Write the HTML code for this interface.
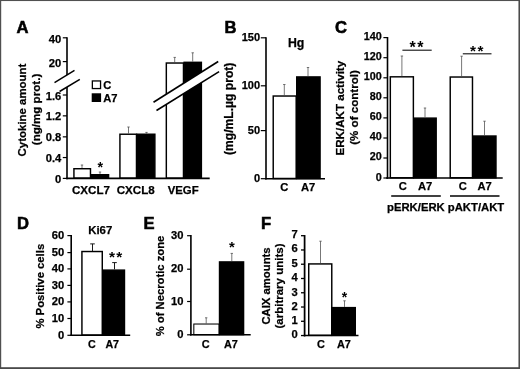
<!DOCTYPE html>
<html><head><meta charset="utf-8"><title>Figure</title>
<style>
html,body{margin:0;padding:0;background:#fff;}
body{width:520px;height:369px;overflow:hidden;position:relative;}
svg{position:absolute;left:0;top:0;display:block;}
svg text{font-family:"Liberation Sans",Arial,Helvetica,sans-serif;font-weight:bold;fill:#000;stroke:#000;stroke-width:0.25px;}
svg text.ast{stroke:none;}
svg text.pl{stroke-width:0.55px;}
</style></head><body>
<svg width="520" height="369" viewBox="0 0 520 369">
<rect x="0" y="0" width="520" height="369" fill="#fff"/>
<text x="16.5" y="32.8" font-size="16.6" text-anchor="start" class="pl">A</text>
<rect x="73.925" y="168.725" width="16.55" height="9.450000000000006" fill="#fff" stroke="#000" stroke-width="1.45"/>
<rect x="90.925" y="174.725" width="17.649999999999995" height="3.4500000000000055" fill="#000" stroke="#000" stroke-width="1.45"/>
<line x1="82" y1="165" x2="82" y2="168" stroke="#4a4a4a" stroke-width="0.75" />
<line x1="80.8" y1="165" x2="83.2" y2="165" stroke="#4a4a4a" stroke-width="0.75" />
<line x1="100" y1="172" x2="100" y2="174" stroke="#4a4a4a" stroke-width="0.75" />
<line x1="98.8" y1="172" x2="101.2" y2="172" stroke="#4a4a4a" stroke-width="0.75" />
<rect x="119.925" y="134.225" width="16.549999999999986" height="43.95" fill="#fff" stroke="#000" stroke-width="1.45"/>
<rect x="137.025" y="134.225" width="17.849999999999984" height="43.95" fill="#000" stroke="#000" stroke-width="1.45"/>
<line x1="128.5" y1="127" x2="128.5" y2="133.5" stroke="#4a4a4a" stroke-width="0.75" />
<line x1="127.3" y1="127" x2="129.7" y2="127" stroke="#4a4a4a" stroke-width="0.75" />
<line x1="146.5" y1="132.4" x2="146.5" y2="133.5" stroke="#4a4a4a" stroke-width="0.75" />
<line x1="145.3" y1="132.4" x2="147.7" y2="132.4" stroke="#4a4a4a" stroke-width="0.75" />
<rect x="166.325" y="63.025" width="17.149999999999995" height="115.15" fill="#fff" stroke="#000" stroke-width="1.45"/>
<rect x="184.125" y="62.325" width="17.24999999999999" height="115.85000000000001" fill="#000" stroke="#000" stroke-width="1.45"/>
<line x1="174.7" y1="57.4" x2="174.7" y2="62.3" stroke="#4a4a4a" stroke-width="0.75" />
<line x1="173.5" y1="57.4" x2="175.89999999999998" y2="57.4" stroke="#4a4a4a" stroke-width="0.75" />
<line x1="192.7" y1="52.8" x2="192.7" y2="61.6" stroke="#4a4a4a" stroke-width="0.75" />
<line x1="191.5" y1="52.8" x2="193.89999999999998" y2="52.8" stroke="#4a4a4a" stroke-width="0.75" />
<polygon points="153.5,102.3 218.2,61.5 219.1,71.6 156.5,110.5" fill="#fff"/>
<line x1="153.5" y1="102.3" x2="218.2" y2="61.5" stroke="#000" stroke-width="1.6" />
<line x1="156.5" y1="110.5" x2="219.1" y2="71.6" stroke="#000" stroke-width="1.6" />
<line x1="67" y1="37.199999999999996" x2="67" y2="179.20000000000002" stroke="#000" stroke-width="1.6" />
<line x1="62.8" y1="37.8" x2="67" y2="37.8" stroke="#000" stroke-width="1.2" />
<text x="61.3" y="42.95" font-size="11.2" text-anchor="end" >40</text>
<line x1="62.8" y1="61.6" x2="67" y2="61.6" stroke="#000" stroke-width="1.2" />
<text x="61.3" y="66.75" font-size="11.2" text-anchor="end" >20</text>
<line x1="62.8" y1="95" x2="67" y2="95" stroke="#000" stroke-width="1.2" />
<text x="61.3" y="100.15" font-size="11.2" text-anchor="end" >1.6</text>
<line x1="62.8" y1="115.85" x2="67" y2="115.85" stroke="#000" stroke-width="1.2" />
<text x="61.3" y="120.05" font-size="11.2" text-anchor="end" >1.2</text>
<line x1="62.8" y1="136.85" x2="67" y2="136.85" stroke="#000" stroke-width="1.2" />
<text x="61.3" y="141.05" font-size="11.2" text-anchor="end" >0.8</text>
<line x1="62.8" y1="157.55" x2="67" y2="157.55" stroke="#000" stroke-width="1.2" />
<text x="61.3" y="161.8" font-size="11.2" text-anchor="end" >0.4</text>
<line x1="62.8" y1="178.4" x2="67" y2="178.4" stroke="#000" stroke-width="1.2" />
<text x="61.3" y="182.55" font-size="11.2" text-anchor="end" >0</text>
<polygon points="54.5,82.6 74.5,70.4 79.8,79.3 59.6,91.5" fill="#fff"/>
<line x1="54.5" y1="82.6" x2="74.5" y2="70.4" stroke="#000" stroke-width="1.5" />
<line x1="59.6" y1="91.5" x2="79.8" y2="79.3" stroke="#000" stroke-width="1.5" />
<line x1="66.2" y1="178.4" x2="209.7" y2="178.4" stroke="#000" stroke-width="1.6" />
<text x="72" y="194.4" font-size="11.6" text-anchor="start" >CXCL7</text>
<text x="116.7" y="194.4" font-size="11.6" text-anchor="start" >CXCL8</text>
<text x="167.7" y="194.4" font-size="11.35" text-anchor="start" >VEGF</text>
<text transform="translate(26,110) rotate(-90)" font-size="11.45" text-anchor="middle">Cytokine amount</text>
<text transform="translate(40.2,109.5) rotate(-90)" font-size="11.6" text-anchor="middle">(ng/mg prot.)</text>
<rect x="92.35000000000001" y="80.95" width="8.2" height="7.600000000000006" fill="#fff" stroke="#000" stroke-width="1.3"/>
<rect x="92.35000000000001" y="93.95" width="8.09999999999999" height="7.400000000000003" fill="#000" stroke="#000" stroke-width="1.3"/>
<text x="103.2" y="88.7" font-size="11.2" text-anchor="start" >C</text>
<text x="103.2" y="101.5" font-size="11.2" text-anchor="start" >A7</text>
<text x="100.2" y="172.2" font-size="14.3" text-anchor="middle" class="ast">*</text>
<text x="224.5" y="32.8" font-size="16.6" text-anchor="start" class="pl">B</text>
<rect x="273.225" y="96.02499999999999" width="22.949999999999978" height="82.44999999999999" fill="#fff" stroke="#000" stroke-width="1.45"/>
<rect x="296.725" y="76.925" width="23.350000000000012" height="101.54999999999998" fill="#000" stroke="#000" stroke-width="1.45"/>
<line x1="284.3" y1="84.5" x2="284.3" y2="95.3" stroke="#4a4a4a" stroke-width="0.75" />
<line x1="283.1" y1="84.5" x2="285.5" y2="84.5" stroke="#4a4a4a" stroke-width="0.75" />
<line x1="308" y1="67.5" x2="308" y2="76.2" stroke="#4a4a4a" stroke-width="0.75" />
<line x1="306.8" y1="67.5" x2="309.2" y2="67.5" stroke="#4a4a4a" stroke-width="0.75" />
<line x1="266" y1="37.199999999999996" x2="266" y2="179.5" stroke="#000" stroke-width="1.6" />
<line x1="260.8" y1="37.8" x2="266" y2="37.8" stroke="#000" stroke-width="1.2" />
<text x="260.1" y="41.2" font-size="11.0" text-anchor="end" >150</text>
<line x1="260.8" y1="85.8" x2="266" y2="85.8" stroke="#000" stroke-width="1.2" />
<text x="260.1" y="89.2" font-size="11.0" text-anchor="end" >100</text>
<line x1="260.8" y1="130.6" x2="266" y2="130.6" stroke="#000" stroke-width="1.2" />
<text x="260.1" y="134.0" font-size="11.0" text-anchor="end" >50</text>
<line x1="260.8" y1="178.7" x2="266" y2="178.7" stroke="#000" stroke-width="1.2" />
<text x="260.1" y="182.1" font-size="11.0" text-anchor="end" >0</text>
<line x1="265.2" y1="178.7" x2="325" y2="178.7" stroke="#000" stroke-width="1.6" />
<text x="280.3" y="190.5" font-size="11.2" text-anchor="start" >C</text>
<text x="301" y="190.5" font-size="11.2" text-anchor="start" >A7</text>
<text x="296.2" y="47.3" font-size="12.3" text-anchor="middle" >Hg</text>
<text transform="translate(233.1,108.8) rotate(-90)" font-size="12.1" text-anchor="middle">(mg/mL.µg prot)</text>
<text x="335" y="32.8" font-size="16.6" text-anchor="start" class="pl">C</text>
<rect x="390.32500000000005" y="76.82499999999999" width="23.05" height="100.95" fill="#fff" stroke="#000" stroke-width="1.45"/>
<rect x="413.725" y="118.125" width="22.449999999999978" height="59.64999999999999" fill="#000" stroke="#000" stroke-width="1.45"/>
<line x1="401.9" y1="56" x2="401.9" y2="76.3" stroke="#4a4a4a" stroke-width="0.75" />
<line x1="400.7" y1="56" x2="403.09999999999997" y2="56" stroke="#4a4a4a" stroke-width="0.75" />
<line x1="425" y1="108" x2="425" y2="117.4" stroke="#4a4a4a" stroke-width="0.75" />
<line x1="423.8" y1="108" x2="426.2" y2="108" stroke="#4a4a4a" stroke-width="0.75" />
<rect x="450.225" y="77.02499999999999" width="22.24999999999999" height="100.75" fill="#fff" stroke="#000" stroke-width="1.45"/>
<rect x="473.02500000000003" y="136.025" width="22.949999999999978" height="41.749999999999986" fill="#000" stroke="#000" stroke-width="1.45"/>
<line x1="461.6" y1="56.2" x2="461.6" y2="76.7" stroke="#4a4a4a" stroke-width="0.75" />
<line x1="460.40000000000003" y1="56.2" x2="462.8" y2="56.2" stroke="#4a4a4a" stroke-width="0.75" />
<line x1="484.5" y1="121.2" x2="484.5" y2="135.3" stroke="#4a4a4a" stroke-width="0.75" />
<line x1="483.3" y1="121.2" x2="485.7" y2="121.2" stroke="#4a4a4a" stroke-width="0.75" />
<line x1="387.5" y1="37.0" x2="387.5" y2="178.8" stroke="#000" stroke-width="1.6" />
<line x1="383.4" y1="37.6" x2="387.5" y2="37.6" stroke="#000" stroke-width="1.2" />
<text x="381.7" y="40.2" font-size="10.8" text-anchor="end" >140</text>
<line x1="383.4" y1="57.7" x2="387.5" y2="57.7" stroke="#000" stroke-width="1.2" />
<text x="381.7" y="59.7" font-size="10.8" text-anchor="end" >120</text>
<line x1="383.4" y1="77.8" x2="387.5" y2="77.8" stroke="#000" stroke-width="1.2" />
<text x="381.7" y="79.6" font-size="10.8" text-anchor="end" >100</text>
<line x1="383.4" y1="97.8" x2="387.5" y2="97.8" stroke="#000" stroke-width="1.2" />
<text x="381.7" y="99.6" font-size="10.8" text-anchor="end" >80</text>
<line x1="383.4" y1="117.9" x2="387.5" y2="117.9" stroke="#000" stroke-width="1.2" />
<text x="381.7" y="120.0" font-size="10.8" text-anchor="end" >60</text>
<line x1="383.4" y1="138" x2="387.5" y2="138" stroke="#000" stroke-width="1.2" />
<text x="381.7" y="140.1" font-size="10.8" text-anchor="end" >40</text>
<line x1="383.4" y1="158" x2="387.5" y2="158" stroke="#000" stroke-width="1.2" />
<text x="381.7" y="160.2" font-size="10.8" text-anchor="end" >20</text>
<line x1="383.4" y1="178" x2="387.5" y2="178" stroke="#000" stroke-width="1.2" />
<text x="381.7" y="181.0" font-size="10.8" text-anchor="end" >0</text>
<line x1="386.2" y1="178" x2="502.7" y2="178" stroke="#000" stroke-width="1.6" />
<text x="398.7" y="190.2" font-size="11.2" text-anchor="start" >C</text>
<text x="418" y="190.2" font-size="11.2" text-anchor="start" >A7</text>
<text x="458.7" y="190.2" font-size="11.2" text-anchor="start" >C</text>
<text x="477.5" y="190.2" font-size="11.2" text-anchor="start" >A7</text>
<line x1="391.2" y1="195.9" x2="440.8" y2="195.9" stroke="#000" stroke-width="1.5" />
<line x1="450" y1="195.9" x2="499.5" y2="195.9" stroke="#000" stroke-width="1.5" />
<text x="387" y="210.5" font-size="11.3" text-anchor="start" >pERK/ERK</text>
<text x="447.8" y="210.5" font-size="11.3" text-anchor="start" >pAKT/AKT</text>
<line x1="402.4" y1="50.2" x2="431.7" y2="50.2" stroke="#111" stroke-width="1.1" />
<line x1="462.8" y1="53.8" x2="491.5" y2="53.8" stroke="#111" stroke-width="1.1" />
<text x="417.3" y="52.9" font-size="16" text-anchor="middle" class="ast" letter-spacing="1.5">**</text>
<text x="477.4" y="55.6" font-size="15.3" text-anchor="middle" class="ast" letter-spacing="1.5">**</text>
<text transform="translate(344,108.2) rotate(-90)" font-size="11.6" text-anchor="middle">ERK/AKT activity</text>
<text transform="translate(358.2,107.5) rotate(-90)" font-size="11.6" text-anchor="middle">(% of control)</text>
<text x="17" y="229.4" font-size="16.6" text-anchor="start" class="pl">D</text>
<rect x="81.925" y="251.525" width="20.349999999999998" height="83.55" fill="#fff" stroke="#000" stroke-width="1.45"/>
<rect x="102.925" y="270.125" width="21.55" height="64.95000000000003" fill="#000" stroke="#000" stroke-width="1.45"/>
<line x1="92.5" y1="243.9" x2="92.5" y2="251" stroke="#1a1a1a" stroke-width="1" />
<line x1="90.2" y1="243.9" x2="94.8" y2="243.9" stroke="#1a1a1a" stroke-width="1" />
<line x1="114.5" y1="262.6" x2="114.5" y2="269.4" stroke="#1a1a1a" stroke-width="1" />
<line x1="112.2" y1="262.6" x2="116.8" y2="262.6" stroke="#1a1a1a" stroke-width="1" />
<line x1="71.2" y1="235.0" x2="71.2" y2="336.1" stroke="#000" stroke-width="1.6" />
<line x1="67.4" y1="235.6" x2="71.2" y2="235.6" stroke="#000" stroke-width="1.2" />
<text x="64.2" y="239.1" font-size="11.2" text-anchor="end" >60</text>
<line x1="67.4" y1="252.6" x2="71.2" y2="252.6" stroke="#000" stroke-width="1.2" />
<text x="64.2" y="255.7" font-size="11.2" text-anchor="end" >50</text>
<line x1="67.4" y1="268.9" x2="71.2" y2="268.9" stroke="#000" stroke-width="1.2" />
<text x="64.2" y="272.0" font-size="11.2" text-anchor="end" >40</text>
<line x1="67.4" y1="285.4" x2="71.2" y2="285.4" stroke="#000" stroke-width="1.2" />
<text x="64.2" y="288.5" font-size="11.2" text-anchor="end" >30</text>
<line x1="67.4" y1="301.9" x2="71.2" y2="301.9" stroke="#000" stroke-width="1.2" />
<text x="64.2" y="305.0" font-size="11.2" text-anchor="end" >20</text>
<line x1="67.4" y1="318.5" x2="71.2" y2="318.5" stroke="#000" stroke-width="1.2" />
<text x="64.2" y="321.6" font-size="11.2" text-anchor="end" >10</text>
<line x1="67.4" y1="335.3" x2="71.2" y2="335.3" stroke="#000" stroke-width="1.2" />
<text x="64.2" y="338.7" font-size="11.2" text-anchor="end" >0</text>
<line x1="70.4" y1="335.3" x2="130.2" y2="335.3" stroke="#000" stroke-width="1.6" />
<text x="87.9" y="348.3" font-size="10.7" text-anchor="start" >C</text>
<text x="105.4" y="348.3" font-size="10.7" text-anchor="start" >A7</text>
<text x="100.2" y="234" font-size="11.4" text-anchor="middle" >Ki67</text>
<text x="116.2" y="262.3" font-size="15.4" text-anchor="middle" class="ast" letter-spacing="1.3">**</text>
<text transform="translate(44,286.2) rotate(-90)" font-size="11.3" text-anchor="middle">% Positive cells</text>
<text x="143.5" y="229.4" font-size="16.6" text-anchor="start" class="pl">E</text>
<rect x="193.82500000000002" y="324.025" width="25.249999999999982" height="10.75000000000001" fill="#fff" stroke="#000" stroke-width="1.05"/>
<rect x="219.525" y="261.925" width="24.05" height="72.65000000000002" fill="#000" stroke="#000" stroke-width="1.45"/>
<line x1="206.2" y1="317.8" x2="206.2" y2="323.6" stroke="#4a4a4a" stroke-width="0.75" />
<line x1="205.0" y1="317.8" x2="207.39999999999998" y2="317.8" stroke="#4a4a4a" stroke-width="0.75" />
<line x1="231.8" y1="253.4" x2="231.8" y2="261.2" stroke="#4a4a4a" stroke-width="0.75" />
<line x1="230.60000000000002" y1="253.4" x2="233.0" y2="253.4" stroke="#4a4a4a" stroke-width="0.75" />
<line x1="190.9" y1="235.1" x2="190.9" y2="335.6" stroke="#000" stroke-width="1.6" />
<line x1="187.1" y1="235.7" x2="190.9" y2="235.7" stroke="#000" stroke-width="1.2" />
<text x="183.4" y="238.9" font-size="11.2" text-anchor="end" >30</text>
<line x1="187.1" y1="269.2" x2="190.9" y2="269.2" stroke="#000" stroke-width="1.2" />
<text x="183.4" y="272.4" font-size="11.2" text-anchor="end" >20</text>
<line x1="187.1" y1="301.5" x2="190.9" y2="301.5" stroke="#000" stroke-width="1.2" />
<text x="183.4" y="304.7" font-size="11.2" text-anchor="end" >10</text>
<line x1="187.1" y1="334.8" x2="190.9" y2="334.8" stroke="#000" stroke-width="1.2" />
<text x="183.4" y="338.0" font-size="11.2" text-anchor="end" >0</text>
<line x1="190" y1="334.8" x2="250.7" y2="334.8" stroke="#000" stroke-width="1.6" />
<text x="201.8" y="348.1" font-size="10.9" text-anchor="start" >C</text>
<text x="224" y="348.1" font-size="10.9" text-anchor="start" >A7</text>
<text x="231.8" y="252.3" font-size="14.8" text-anchor="middle" class="ast">*</text>
<text transform="translate(164,286) rotate(-90)" font-size="11.25" text-anchor="middle">% of Necrotic zone</text>
<text x="261" y="229.4" font-size="16.6" text-anchor="start" class="pl">F</text>
<rect x="308.725" y="263.925" width="23.05" height="71.40000000000002" fill="#fff" stroke="#000" stroke-width="1.45"/>
<rect x="331.725" y="307.625" width="23.55" height="27.700000000000035" fill="#000" stroke="#000" stroke-width="1.45"/>
<line x1="320.5" y1="241.2" x2="320.5" y2="263.2" stroke="#4a4a4a" stroke-width="0.75" />
<line x1="319.3" y1="241.2" x2="321.7" y2="241.2" stroke="#4a4a4a" stroke-width="0.75" />
<line x1="344.5" y1="300.8" x2="344.5" y2="306.9" stroke="#4a4a4a" stroke-width="0.75" />
<line x1="343.3" y1="300.8" x2="345.7" y2="300.8" stroke="#4a4a4a" stroke-width="0.75" />
<line x1="304.6" y1="235.04999999999998" x2="304.6" y2="336.425" stroke="#000" stroke-width="1.75" />
<line x1="301" y1="235.7" x2="304.6" y2="235.7" stroke="#000" stroke-width="1.3" />
<text x="297.7" y="238.15" font-size="11.2" text-anchor="end" >7</text>
<line x1="301" y1="249.964" x2="304.6" y2="249.964" stroke="#000" stroke-width="1.3" />
<text x="297.7" y="252.41" font-size="11.2" text-anchor="end" >6</text>
<line x1="301" y1="264.228" x2="304.6" y2="264.228" stroke="#000" stroke-width="1.3" />
<text x="297.7" y="266.68" font-size="11.2" text-anchor="end" >5</text>
<line x1="301" y1="278.49199999999996" x2="304.6" y2="278.49199999999996" stroke="#000" stroke-width="1.3" />
<text x="297.7" y="281.24" font-size="11.2" text-anchor="end" >4</text>
<line x1="301" y1="292.756" x2="304.6" y2="292.756" stroke="#000" stroke-width="1.3" />
<text x="297.7" y="295.51" font-size="11.2" text-anchor="end" >3</text>
<line x1="301" y1="307.02" x2="304.6" y2="307.02" stroke="#000" stroke-width="1.3" />
<text x="297.7" y="309.77" font-size="11.2" text-anchor="end" >2</text>
<line x1="301" y1="321.284" x2="304.6" y2="321.284" stroke="#000" stroke-width="1.3" />
<text x="297.7" y="324.03" font-size="11.2" text-anchor="end" >1</text>
<line x1="301" y1="335.548" x2="304.6" y2="335.548" stroke="#000" stroke-width="1.3" />
<text x="297.7" y="338.3" font-size="11.2" text-anchor="end" >0</text>
<line x1="303.8" y1="335.55" x2="358.5" y2="335.55" stroke="#000" stroke-width="1.6" />
<text x="316.9" y="348" font-size="10.9" text-anchor="start" >C</text>
<text x="337" y="348" font-size="10.9" text-anchor="start" >A7</text>
<text x="344.5" y="301.6" font-size="14" text-anchor="middle" class="ast">*</text>
<text transform="translate(270,286) rotate(-90)" font-size="11.3" text-anchor="middle">CAIX amounts</text>
<text transform="translate(282.6,286) rotate(-90)" font-size="11.5" text-anchor="middle">(arbitrary units)</text>
<!-- frame -->
<rect x="0" y="0" width="520" height="1.05" fill="#505050"/>
<rect x="0" y="0" width="1.2" height="369" fill="#505050"/>
<rect x="518.45" y="0" width="1.55" height="369" fill="#4a4a4a"/>
<rect x="0" y="367.2" width="520" height="1.8" fill="#4a4a4a"/>
</svg>
</body></html>
